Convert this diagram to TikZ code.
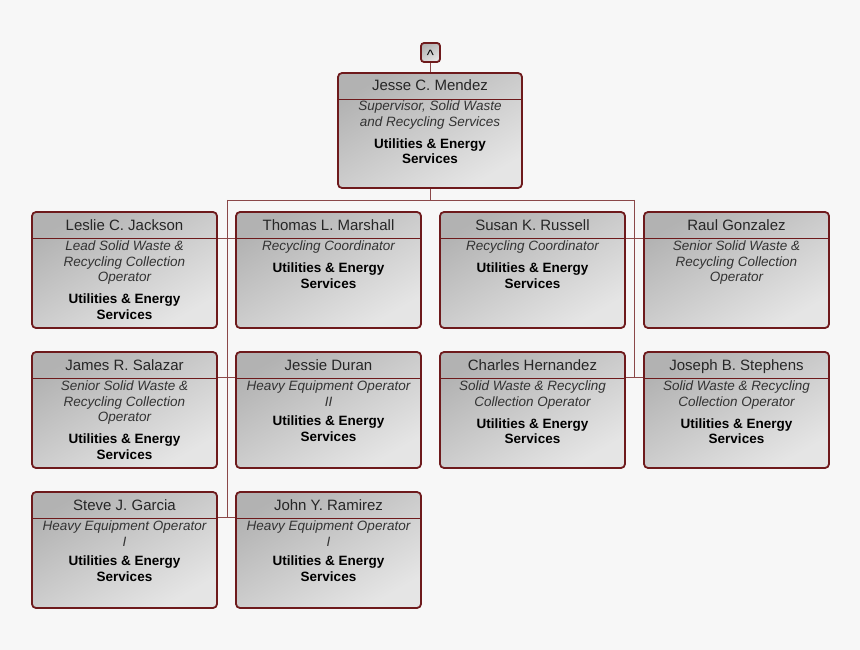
\documentclass[tikz,border=0pt]{standalone}
\usepackage{fontspec}
\setmainfont{Liberation Sans}
\definecolor{bd}{HTML}{6E1A1C}
\definecolor{bg}{HTML}{F7F7F7}
\begin{document}
\begin{tikzpicture}[x=1pt,y=-1pt,
  box/.style={draw=bd,line width=1.8pt,rounded corners=4pt,top color=black!30,bottom color=black!10,shading angle=30},
  nm/.style={font=\fontsize{15}{15}\selectfont,text=black!85,inner sep=0pt,anchor=base},
  ttl/.style={font=\fontsize{13.5}{15.5}\itshape\selectfont,text=black!80,align=center,inner sep=0pt,anchor=north},
  dp/.style={font=\fontsize{13.5}{15.5}\bfseries\selectfont,align=center,inner sep=0pt,anchor=north},
  ln/.style={draw=bd!80,line width=0.8pt}]
\fill[bg] (0,0) rectangle (860,650);
\newcommand{\person}[6]{%
  \path[box] (#2-92.5,#3) rectangle (#2+92.5,#3+116);
  \draw[bd,line width=0.8pt] (#2-92.5,#3+26) -- (#2+92.5,#3+26);
  \node[nm] (#1n) at (#2,#3+18) {#4};
  \node[ttl] (#1t) at (#2,#3+29) {#5};
  \node[dp] (#1d) at ([yshift=-9pt]#1t.south) {#6};}
% connectors
\coordinate (jb) at (430,188);
\coordinate (jm) at (430,200);
\coordinate (bl) at (227,200);
\coordinate (br) at (634,200);
\coordinate (bl3) at (227,517);
\coordinate (br2) at (634,377);
\draw[ln] (jb) -- (jm) (bl) -- (br) (bl) -- (bl3) (br) -- (br2);
\draw[ln] (430,62) -- (430,73);
\draw[ln] (217,238) -- (236,238) (625,238) -- (644,238);
\draw[ln] (217,377) -- (236,377) (625,377) -- (644,377);
\draw[ln] (217,517) -- (236,517);
% caret
\path[box,rounded corners=3pt] (421,43) rectangle (440,62);
\node[font=\fontsize{15}{15}\selectfont,inner sep=0pt,anchor=base] (caret) at (430.5,61) {\^{}};
% top
\path[box] (338,73) rectangle (522,188);
\draw[bd,line width=0.8pt] (338,99) -- (522,99);
\node[nm] (jn) at (430,91) {Jesse C. Mendez};
\node[ttl] (jt) at (430,101) {Supervisor, Solid Waste\\and Recycling Services};
\node[dp] (jd) at ([yshift=-9pt]jt.south) {Utilities \& Energy\\Services};
\person{a}{124.5}{212}{Leslie C. Jackson}{Lead Solid Waste \&\\Recycling Collection\\Operator}{Utilities \& Energy\\Services}
\person{b}{328.5}{212}{Thomas L. Marshall}{Recycling Coordinator}{Utilities \& Energy\\Services}
\person{c}{532.5}{212}{Susan K. Russell}{Recycling Coordinator}{Utilities \& Energy\\Services}
\person{d}{736.5}{212}{Raul Gonzalez}{Senior Solid Waste \&\\Recycling Collection\\Operator}{}
\person{e}{124.5}{352}{James R. Salazar}{Senior Solid Waste \&\\Recycling Collection\\Operator}{Utilities \& Energy\\Services}
\person{f}{328.5}{352}{Jessie Duran}{Heavy Equipment Operator\\II}{Utilities \& Energy\\Services}
\person{g}{532.5}{352}{Charles Hernandez}{Solid Waste \& Recycling\\Collection Operator}{Utilities \& Energy\\Services}
\person{h}{736.5}{352}{Joseph B. Stephens}{Solid Waste \& Recycling\\Collection Operator}{Utilities \& Energy\\Services}
\person{i}{124.5}{492}{Steve J. Garcia}{Heavy Equipment Operator\\I}{Utilities \& Energy\\Services}
\person{k}{328.5}{492}{John Y. Ramirez}{Heavy Equipment Operator\\I}{Utilities \& Energy\\Services}
\end{tikzpicture}
\end{document}
